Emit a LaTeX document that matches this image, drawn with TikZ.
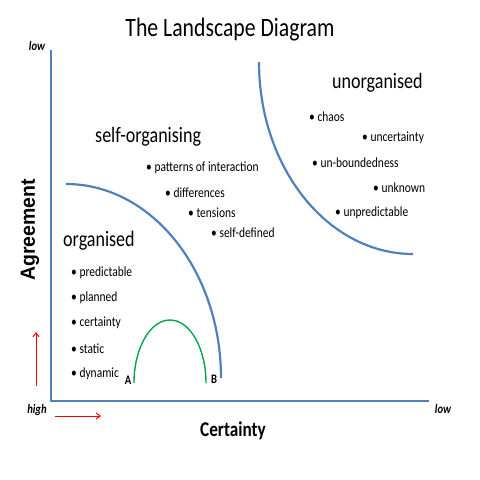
\documentclass[tikz,border=0pt]{standalone}
\usepackage{fontspec}
\setmainfont{Carlito}[FakeStretch=0.82]
\newfontfamily\widebold{Liberation Sans}[FakeStretch=0.95]
\usetikzlibrary{arrows.meta}
\definecolor{axisblue}{RGB}{79,129,189}
\definecolor{arcgreen}{RGB}{0,166,80}
\tikzset{
  heading/.style={anchor=west, inner sep=0pt, font=\fontsize{22}{24}\selectfont},
  item/.style={anchor=west, inner sep=0pt, font=\fontsize{14}{16}\selectfont},
  axislabel/.style={inner sep=0pt, font=\fontsize{21}{23}\selectfont\bfseries},
  endlabel/.style={inner sep=0pt, font=\fontsize{13}{15}\selectfont\bfseries\itshape},
  pointlabel/.style={inner sep=0pt, font=\fontsize{13}{15}\selectfont\bfseries},
  boundary/.style={draw=axisblue, line width=2.2pt},
  redarrow/.style={draw=red, line width=1pt, -{Straight Barb[length=4pt,width=6pt]}}
}
\begin{document}
\begin{tikzpicture}[x=1pt, y=-1pt]
    \useasboundingbox (0,0) rectangle (480,480);
    \node (title) at (230,30) {\fontsize{26.5}{28}\selectfont The Landscape Diagram};
    % axes
    \coordinate (ytop) at (51,50);
    \coordinate (origin) at (51,401);
    \coordinate (xend) at (429,401);
    \draw[boundary] (ytop) -- (origin) -- (xend);
    \node[endlabel] (lowy) at (37,46) {low};
    \node[endlabel] (high) at (37,410) {high};
    \node[endlabel] (lowx) at (443,409) {low};
    \node[inner sep=0pt, rotate=90, font=\fontsize{20.5}{22}\selectfont\widebold\bfseries] (agree) at (30,230) {Agreement};
    \node[axislabel] (cert) at (233,431) {Certainty};
    \coordinate (vup0) at (36,386);
    \coordinate (vup1) at (36,332);
    \coordinate (hr0) at (55,416);
    \coordinate (hr1) at (101,416);
    \draw[redarrow] (vup0) -- (vup1);
    \draw[redarrow] (hr0) -- (hr1);
    % boundaries
    \coordinate (orgtop) at (66,184);
    \coordinate (chaostop) at (259,62);
    \coordinate (ga) at (134,383);
    \draw[boundary] (orgtop) arc[start angle=270, end angle=360, x radius=155, y radius=194];
    \draw[boundary] (chaostop) arc[start angle=180, end angle=90, x radius=154, y radius=192];
    \draw[draw=arcgreen, line width=1.4pt] (ga) arc[start angle=180, end angle=360, x radius=36, y radius=63];
    \node[pointlabel] (A) at (128,380) {A};
    \node[pointlabel] (B) at (214,379) {B};
    % organised
    \node[heading] (org) at (63,241) {organised};
    \node[item] (o1) at (71,273) {\textbullet\ predictable};
    \node[item] (o2) at (71,298) {\textbullet\ planned};
    \node[item] (o3) at (71,323) {\textbullet\ certainty};
    \node[item] (o4) at (71,349) {\textbullet\ static};
    \node[item] (o5) at (71,374) {\textbullet\ dynamic};
    % self-organising
    \node[heading] (self) at (95,137) {self-organising};
    \node[item] (s1) at (146,168) {\textbullet\ patterns of interaction};
    \node[item] (s2) at (165,193) {\textbullet\ differences};
    \node[item] (s3) at (188,213) {\textbullet\ tensions};
    \node[item] (s4) at (211,233) {\textbullet\ self-defined};
    % unorganised
    \node[heading] (unorg) at (332,83) {unorganised};
    \node[item] (u1) at (309,117) {\textbullet\ chaos};
    \node[item] (u2) at (362,138) {\textbullet\ uncertainty};
    \node[item] (u3) at (312,163) {\textbullet\ un-boundedness};
    \node[item] (u4) at (373,188) {\textbullet\ unknown};
    \node[item] (u5) at (335,213) {\textbullet\ unpredictable};
\end{tikzpicture}
\end{document}
